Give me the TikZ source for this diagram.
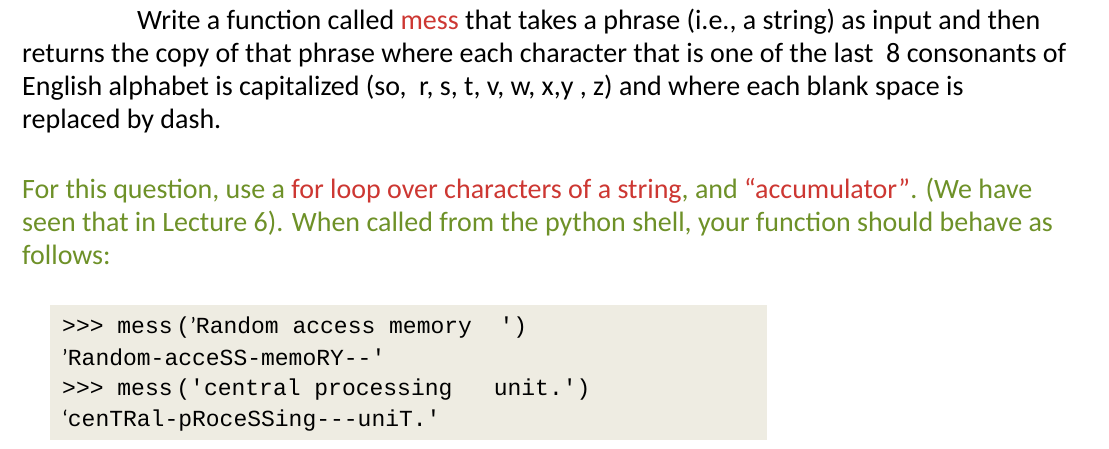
\documentclass[tikz,border=0pt]{standalone}
\usepackage{fontspec}
\setmainfont{Carlito}
\setmonofont{Liberation Mono}
\definecolor{myred}{RGB}{205,55,50}
\definecolor{mygreen}{RGB}{110,145,40}
\definecolor{codebg}{RGB}{238,236,226}
\begin{document}
\begin{tikzpicture}[x=1pt,y=-1pt,
  txt/.style={anchor=base west,inner sep=0pt,font=\fontsize{28}{32}\selectfont},
  code/.style={anchor=base west,inner sep=0pt,font=\ttfamily\fontsize{23}{26}\selectfont}]
\useasboundingbox[fill=white] (0,0) rectangle (1109,449);
\fill[codebg] (50,305) rectangle (767,440);
\node[txt] (l1) at (137,30) {Write a function called \textcolor{myred}{mess} that takes a phrase (i.e., a string) as input and then};
\node[txt] (l2) at (22,63) {returns the copy of that phrase where each character that is one of the last \ 8 consonants of};
\node[txt] (l3) at (22,96) {English alphabet is capitalized (so, \ r, s, t, v, w, x,y , z) and where each blank space is};
\node[txt] (l4) at (22,129) {replaced by dash.};
\node[txt,text=mygreen] (g1) at (22,199) {For this question, use a \textcolor{myred}{for loop over characters of a string}, and \textcolor{myred}{“accumulator”}. (We have};
\node[txt,text=mygreen] (g2) at (22,232) {seen that in Lecture 6). When called from the python shell, your function should behave as};
\node[txt,text=mygreen] (g3) at (22,265) {follows:};
\node[code] (c1) at (62,334) {>>> mess\,({\rmfamily '}Random access memory\ \ ')};
\node[code] (c2) at (62,365) {{\rmfamily '}Random-acceSS-memoRY-{}-'};
\node[code] (c3) at (62,395) {>>> mess\,('central processing\ \ \ unit.')};
\node[code] (c4) at (62,426) {{\rmfamily ‘}cenTRal-pRoceSSing-{}-{}-uniT.'};
\end{tikzpicture}
\end{document}
